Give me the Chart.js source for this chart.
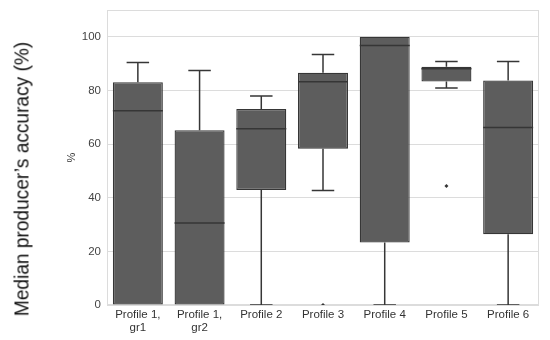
<!DOCTYPE html>
<html>
<head>
<meta charset="utf-8">
<script src="https://cdn.jsdelivr.net/npm/chart.js@4.4.1/dist/chart.umd.min.js"></script>
<style>
  html, body { margin: 0; padding: 0; background: #fff; overflow: hidden; }
  #wrap { width: 550px; height: 340px; position: relative; }
  #outerTitle {
    position: absolute;
    left: 20.7px;
    top: 178.5px;
    font: 21px "Liberation Sans", Arial, sans-serif;
    line-height: 1;
    color: #111;
    white-space: nowrap;
    transform: translate(-50%, -50%) rotate(-90deg) scaleX(0.91);
  }
</style>
</head>
<body>
<div id="wrap">
  <canvas id="boxChart"></canvas>
  <div id="outerTitle">Median producer’s accuracy (%)</div>
</div>
<script>
const profiles = [['Profile 1,', 'gr1'], ['Profile 1,', 'gr2'], 'Profile 2', 'Profile 3', 'Profile 4', 'Profile 5', 'Profile 6'];
const whiskerLow = [0, 0, 0, 42.7, 0, 80.9, 0];
const q1 = [0, 0, 42.9, 58.3, 23.3, 83.3, 26.4];
const medians = [72.4, 30.6, 65.7, 83.2, 96.8, 88.1, 66.2];
const q3 = [83.1, 65.2, 73.1, 86.6, 100, 88.8, 83.7];
const whiskerHigh = [90.4, 87.4, 77.9, 93.4, 100, 90.8, 90.8];
const outliers = [null, null, null, 0, null, 44.4, null];
const yTicks = [0, 20, 40, 60, 80, 100];

const BOX_FILL = '#5d5d5d';
const LINE = '#363636';

const boxPlugin = {
  id: 'boxParts',
  beforeDatasetsDraw(chart) {
    const { ctx, chartArea: a } = chart;
    ctx.save();
    ctx.strokeStyle = '#dcdcdc';
    ctx.lineWidth = 1;
    ctx.strokeRect(a.left + 0.5, a.top + 0.5, a.width - 1, a.height - 1);
    ctx.restore();
  },
  afterDatasetsDraw(chart) {
    const { ctx, chartArea: a } = chart;
    const x = chart.scales.x, y = chart.scales.y;
    const bars = chart.getDatasetMeta(0).data;
    ctx.save();
    ctx.beginPath();
    ctx.rect(a.left, a.top, a.width, a.height);
    ctx.clip();
    ctx.strokeStyle = LINE;
    ctx.lineWidth = 1.5;
    profiles.forEach((p, i) => {
      const cx = x.getPixelForValue(i);
      const bw = bars[i].width;
      const cap = bw * 0.45 / 2;
      ctx.beginPath();
      // upper whisker
      if (whiskerHigh[i] > q3[i]) {
        ctx.moveTo(cx, y.getPixelForValue(q3[i]));
        ctx.lineTo(cx, y.getPixelForValue(whiskerHigh[i]));
        ctx.moveTo(cx - cap, y.getPixelForValue(whiskerHigh[i]));
        ctx.lineTo(cx + cap, y.getPixelForValue(whiskerHigh[i]));
      }
      // lower whisker
      if (whiskerLow[i] < q1[i]) {
        ctx.moveTo(cx, y.getPixelForValue(q1[i]));
        ctx.lineTo(cx, y.getPixelForValue(whiskerLow[i]));
        ctx.moveTo(cx - cap, y.getPixelForValue(whiskerLow[i]));
        ctx.lineTo(cx + cap, y.getPixelForValue(whiskerLow[i]));
      }
      // median
      ctx.moveTo(cx - bw / 2, y.getPixelForValue(medians[i]));
      ctx.lineTo(cx + bw / 2, y.getPixelForValue(medians[i]));
      ctx.stroke();
    });
    ctx.restore();
  }
};

new Chart(document.getElementById('boxChart'), {
  data: {
    labels: profiles,
    datasets: [{
      type: 'bar',
      data: q1.map((v, i) => [v, q3[i]]),
      backgroundColor: BOX_FILL,
      borderColor: LINE,
      borderWidth: 1.3,
      borderSkipped: false,
      barPercentage: 0.81,
      categoryPercentage: 1
    }, {
      type: 'line',
      data: outliers,
      showLine: false,
      pointStyle: 'rectRot',
      pointRadius: 2,
      pointBackgroundColor: LINE,
      pointBorderColor: LINE,
      pointBorderWidth: 0
    }]
  },
  options: {
    responsive: true,
    maintainAspectRatio: false,
    animation: false,
    layout: { padding: { top: 10, right: 11, bottom: 0, left: 0 } },
    plugins: {
      legend: { display: false },
      tooltip: { enabled: false }
    },
    scales: {
      x: {
        afterFit: axis => { axis.height = 35; axis.paddingLeft = 0; axis.paddingRight = 0; },
        grid: { display: false, drawTicks: false },
        border: { display: false },
        ticks: {
          color: '#333',
          font: { family: 'Liberation Sans, Arial', size: 11.5, lineHeight: 1.1 },
          padding: 4,
          maxRotation: 0
        }
      },
      y: {
        min: 0,
        max: 110,
        afterBuildTicks: axis => { axis.ticks = yTicks.map(v => ({ value: v })); },
        afterFit: axis => { axis.width = 107; axis.paddingTop = 0; axis.paddingBottom = 0; },
        grid: { color: '#dcdcdc', drawTicks: false },
        border: { display: false },
        ticks: {
          color: '#444',
          font: { family: 'Liberation Sans, Arial', size: 11.5 },
          padding: 6
        },
        title: {
          display: true,
          text: '%',
          color: '#333',
          font: { family: 'Liberation Sans, Arial', size: 11 },
          padding: { top: 65, bottom: 0 }
        }
      }
    }
  },
  plugins: [boxPlugin]
});
</script>
</body>
</html>
